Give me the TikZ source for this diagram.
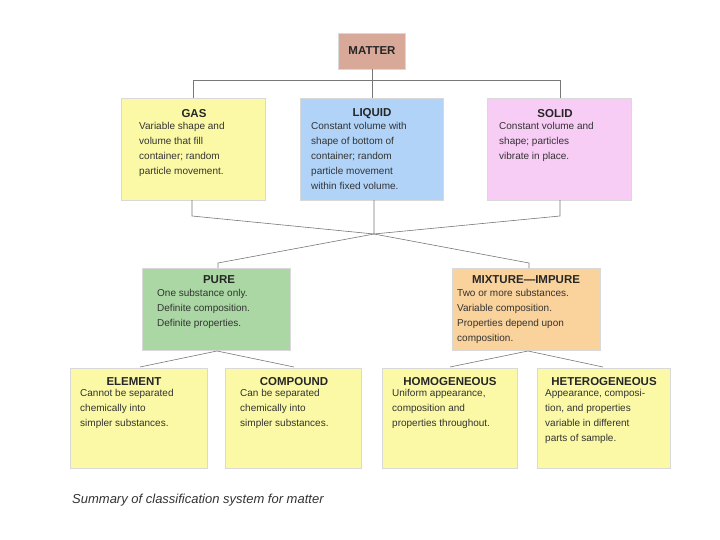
\documentclass[tikz,border=0pt]{standalone}
\usepackage{fontspec}
\setmainfont{Liberation Sans}
\definecolor{cyel}{HTML}{FBF9A6}
\definecolor{cblue}{HTML}{B0D3F7}
\definecolor{cpink}{HTML}{F7CCF5}
\definecolor{cgreen}{HTML}{AAD7A3}
\definecolor{corange}{HTML}{FAD29C}
\definecolor{cmatter}{HTML}{D8A898}
\definecolor{cline}{HTML}{777777}
\begin{document}
\begin{tikzpicture}[x=1pt,y=-1pt,
  box/.style={draw=black!15,line width=0.6pt},
  ttl/.style={font=\fontsize{11.5}{13}\selectfont\bfseries,text=black!85,inner sep=0},
  bdy/.style={font=\fontsize{10}{15}\selectfont,text=black!80,align=left,anchor=north west,inner sep=0},
  con/.style={draw=cline,line width=0.6pt}]
\useasboundingbox (0,0) rectangle (720,540);
% boxes
\fill[cmatter,box] (338,33) rectangle (405,69);
\node[ttl] (matter) at (372,51) {MATTER};
\fill[cyel,box] (121,98) rectangle (265,200);
\fill[cblue,box] (300,98) rectangle (443,200);
\fill[cpink,box] (487,98) rectangle (631,200);
\fill[cgreen,box] (142,268) rectangle (290,350);
\fill[corange,box] (452,268) rectangle (600,350);
\fill[cyel,box] (70,368) rectangle (207,468);
\fill[cyel,box] (225,368) rectangle (361,468);
\fill[cyel,box] (382,368) rectangle (517,468);
\fill[cyel,box] (537,368) rectangle (670,468);
% texts
\node[ttl] (gas) at (194,114) {GAS};
\node[bdy] (gasb) at (139,122) {Variable shape and\\volume that fill\\container; random\\particle movement.};
\node[ttl] (liq) at (372,114) {LIQUID};
\node[bdy] (liqb) at (311,122) {Constant volume with\\shape of bottom of\\container; random\\particle movement\\within fixed volume.};
\node[ttl] (sol) at (555,114) {SOLID};
\node[bdy] (solb) at (499,122) {Constant volume and\\shape; particles\\vibrate in place.};
\node[ttl] (pure) at (219,280) {PURE};
\node[bdy] (pureb) at (157,289) {One substance only.\\Definite composition.\\Definite properties.};
\node[ttl] (mix) at (526,280) {MIXTURE---IMPURE};
\node[bdy] (mixb) at (457,289) {Two or more substances.\\Variable composition.\\Properties depend upon\\composition.};
\node[ttl] (ele) at (134,382) {ELEMENT};
\node[bdy] (eleb) at (80,389) {Cannot be separated\\chemically into\\simpler substances.};
\node[ttl] (com) at (294,382) {COMPOUND};
\node[bdy] (comb) at (240,389) {Can be separated\\chemically into\\simpler substances.};
\node[ttl] (hom) at (450,382) {HOMOGENEOUS};
\node[bdy] (homb) at (392,389) {Uniform appearance,\\composition and\\properties throughout.};
\node[ttl] (het) at (604,382) {HETEROGENEOUS};
\node[bdy] (hetb) at (545,389) {Appearance, composi-\\tion, and properties\\variable in different\\parts of sample.};
\node[anchor=west,inner sep=0,font=\fontsize{13}{15}\selectfont\itshape,text=black!80] (cap) at (72,500) {Summary of classification system for matter};
% connectors
\coordinate (m1) at (372,69);
\coordinate (m2) at (372,80);
\coordinate (g0) at (193,80); \coordinate (g1) at (193,98);
\coordinate (l1) at (372,98);
\coordinate (s0) at (560,80); \coordinate (s1) at (560,98);
\draw[con] (m1)--(m2) (g1)--(g0)--(s0)--(s1) (m2)--(l1);
\coordinate (ga) at (192,200); \coordinate (gb) at (192,216);
\coordinate (la) at (374,200); \coordinate (lb) at (374,234);
\coordinate (sa) at (560,200); \coordinate (sb) at (560,216);
\coordinate (pa) at (218,263); \coordinate (pb) at (218,268);
\coordinate (xa) at (529,263); \coordinate (xb) at (529,268);
\draw[con] (ga)--(gb)--(lb) (sa)--(sb)--(lb) (la)--(lb);
\draw[con] (lb)--(pa)--(pb) (lb)--(xa)--(xb);
\coordinate (pbot) at (217,351); \coordinate (xbot) at (528,351);
\coordinate (e1) at (140,367); \coordinate (c1) at (294,367);
\coordinate (h1) at (450,367); \coordinate (t1) at (603,367);
\draw[con] (e1)--(pbot)--(c1) (h1)--(xbot)--(t1);
\end{tikzpicture}
\end{document}
